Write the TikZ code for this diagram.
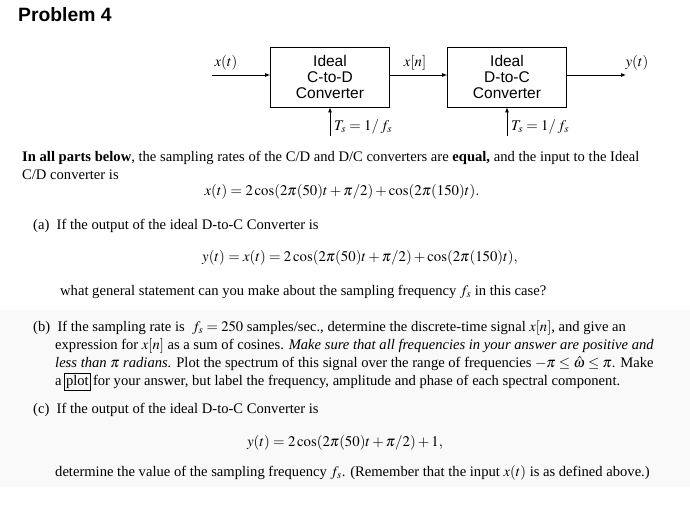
\documentclass[tikz,border=0pt]{standalone}
\usepackage{mathptmx}
\usepackage{fontspec}
\setmainfont{Liberation Serif}
\newfontfamily\hsans{Liberation Sans}
\usetikzlibrary{arrows.meta}
\setlength{\fboxsep}{1.5pt}
\begin{document}
\begin{tikzpicture}[x=1pt,y=-1pt,
  conv/.style={draw,thick,minimum width=119pt,minimum height=60pt,inner sep=0pt,align=center,font=\hsans\fontsize{15.5}{16}\selectfont},
  sig/.style={thick,-{Latex[length=5pt,width=4pt]}},
  ln/.style={anchor=base west,inner sep=0pt,font=\fontsize{14.6}{16}\selectfont},
  eq/.style={anchor=base,inner sep=0pt,font=\fontsize{14.8}{16}\selectfont},
  lab/.style={inner sep=0pt,font=\fontsize{14.8}{16}\selectfont}]
\useasboundingbox (0,0) rectangle (690,505);
\fill[white] (0,0) rectangle (690,505);
\fill[black!2.5] (0,310) rectangle (690,487);
\node[anchor=base west,inner sep=0pt,font=\hsans\bfseries\fontsize{19.3}{20}\selectfont] (title) at (18,22) {Problem 4};
% diagram
\node[conv] (cd) at (330,77) {Ideal\\C-to-D\\Converter};
\node[conv] (dc) at (507,77) {Ideal\\D-to-C\\Converter};
\coordinate (in) at (212,75);
\coordinate (out) at (626,75);
\coordinate (t1) at (330,136);
\coordinate (t2) at (507,136);
\draw[sig] (in) -- (in -| cd.west);
\draw[sig] (cd.east |- in) -- (dc.west |- in);
\draw[sig] (dc.east |- in) -- (out);
\draw[sig] (t1) -- (cd.south);
\draw[sig] (t2) -- (dc.south);
\node[lab] (lx) at (226,63) {$x(t)$};
\node[lab] (ln) at (415,63) {$x[n]$};
\node[lab] (ly) at (637,63) {$y(t)$};
\node[lab,anchor=west] (ts1) at (334,127) {$T_s=1/\,f_s$};
\node[lab,anchor=west] (ts2) at (511,127) {$T_s=1/\,f_s$};
% text
\node[ln] (p1) at (22,162) {\textbf{In all parts below}, the sampling rates of the C/D and D/C converters are \textbf{equal,} and the input to the Ideal};
\node[ln] (p2) at (22,179) {C/D converter is};
\node[eq] (e1) at (342,195) {$x(t)=2\cos(2\pi(50)t+\pi/2)+\cos(2\pi(150)t).$};
\node[ln] (a1) at (33,229) {(a)\ \ If the output of the ideal D-to-C Converter is};
\node[eq] (e2) at (360,261) {$y(t)=x(t)=2\cos(2\pi(50)t+\pi/2)+\cos(2\pi(150)t),$};
\node[ln] (a2) at (60,295) {what general statement can you make about the sampling frequency $f_s$ in this case?};
\node[ln] (b1) at (33,331) {(b)\ \ If the sampling rate is \ $f_s=250$ samples/sec., determine the discrete-time signal $x[n]$, and give an};
\node[ln] (b2) at (55,349) {expression for $x[n]$ as a sum of cosines. \textit{Make sure that all frequencies in your answer are positive and}};
\node[ln] (b3) at (55,367) {\textit{less than $\pi$ radians.} Plot the spectrum of this signal over the range of frequencies $-\pi\le\hat\omega\le\pi$. Make};
\node[ln] (b4) at (55,385) {a\,\fbox{plot}\,for your answer, but label the frequency, amplitude and phase of each spectral component.};
\node[ln] (c1) at (33,413) {(c)\ \ If the output of the ideal D-to-C Converter is};
\node[eq] (e3) at (345,446) {$y(t)=2\cos(2\pi(50)t+\pi/2)+1,$};
\node[ln] (c2) at (55,476) {determine the value of the sampling frequency $f_s$. (Remember that the input $x(t)$ is as defined above.)};
\end{tikzpicture}
\end{document}
